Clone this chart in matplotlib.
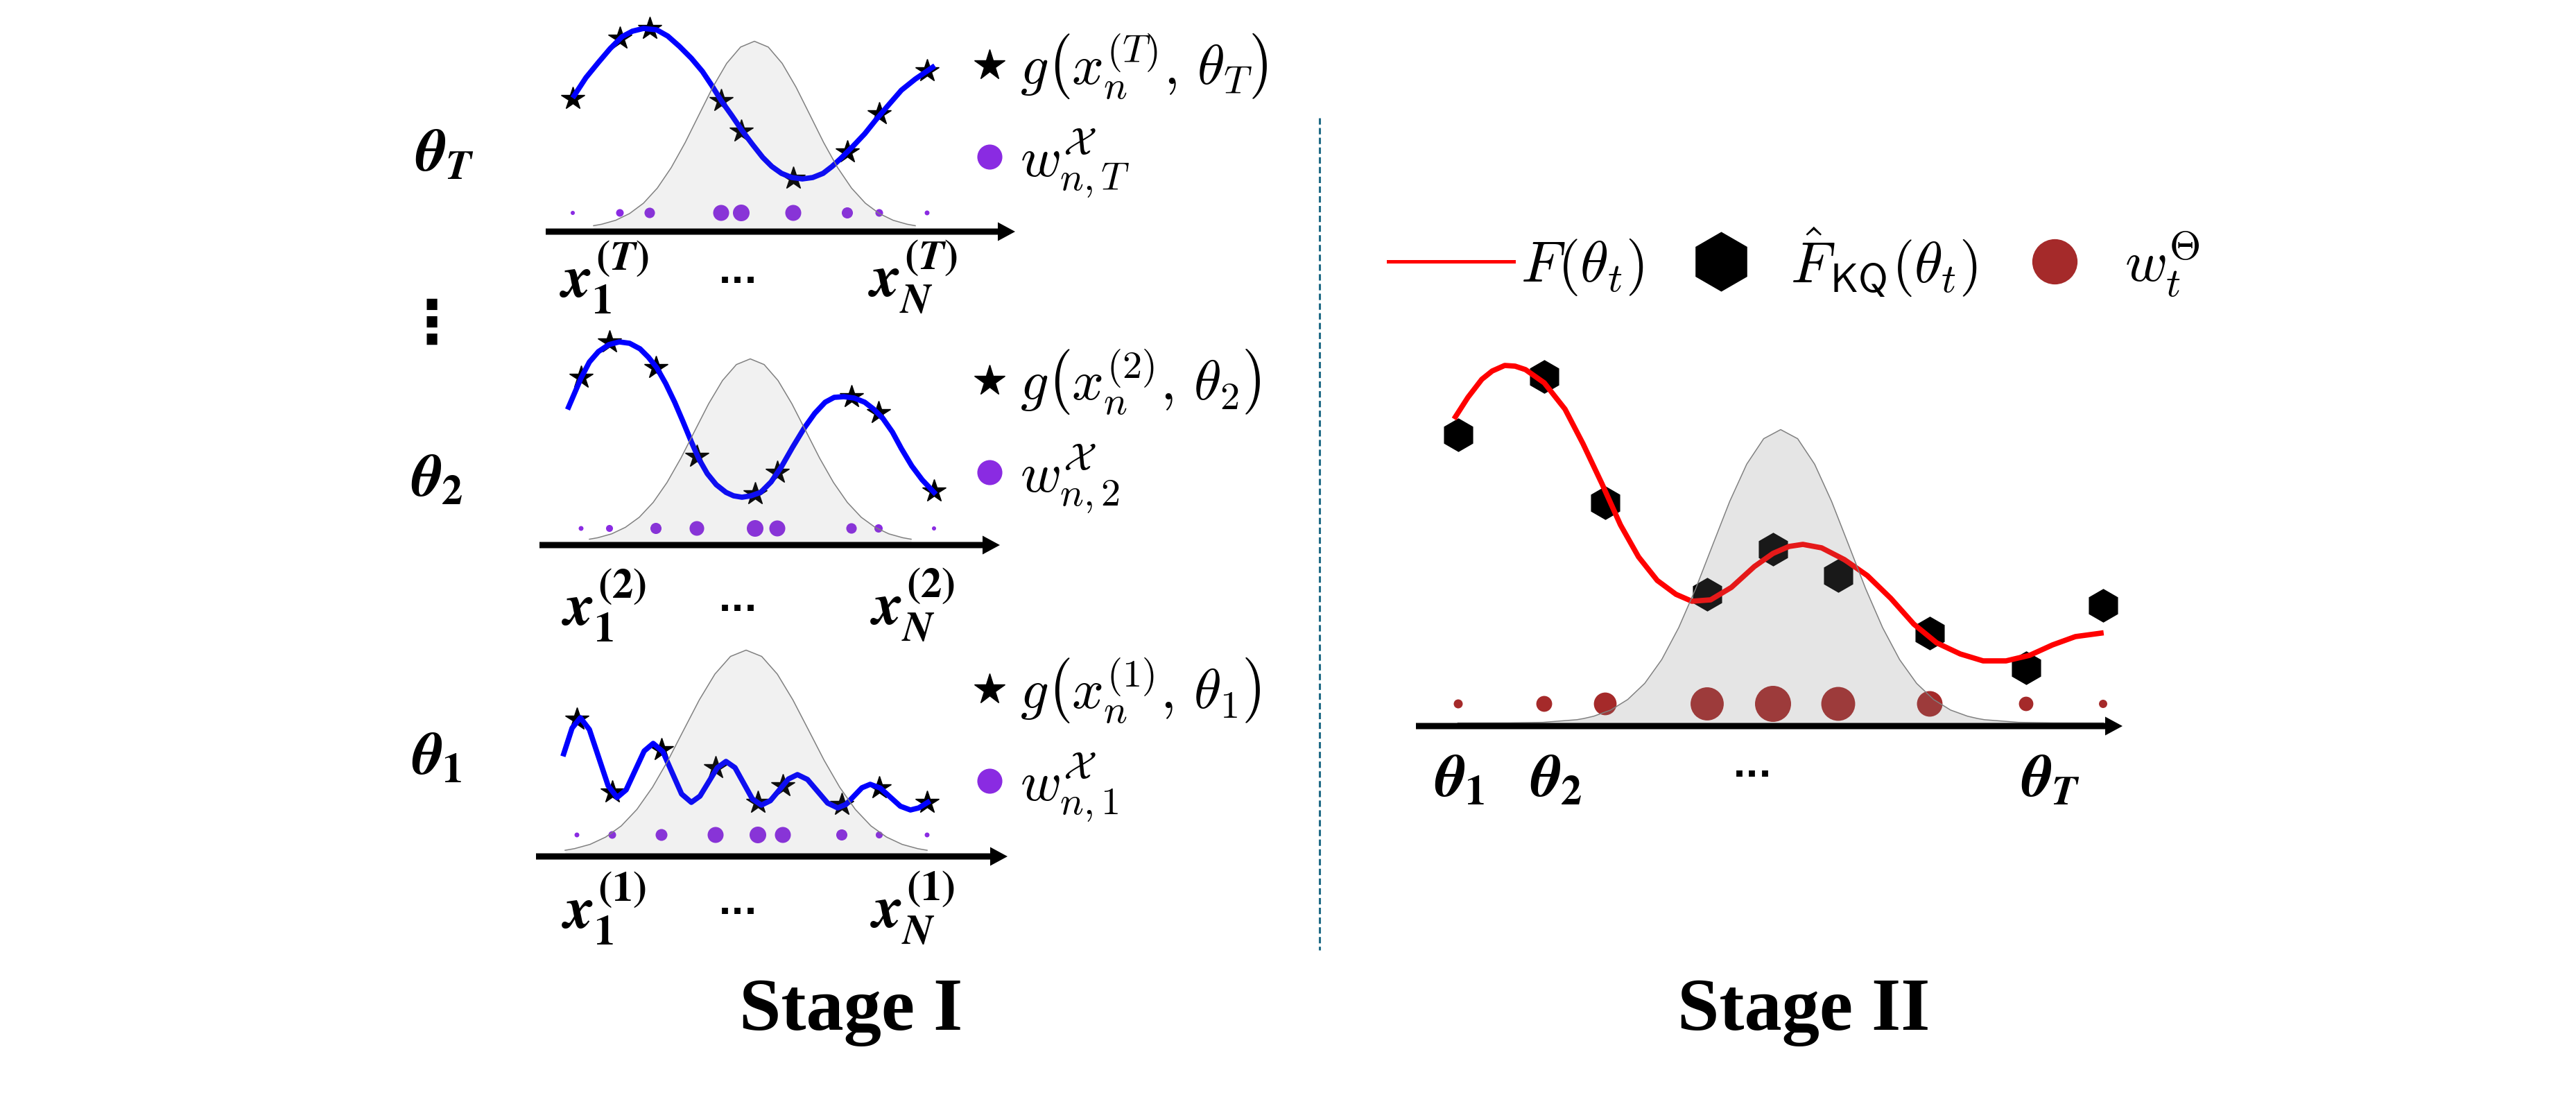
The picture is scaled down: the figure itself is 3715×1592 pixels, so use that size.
import numpy as np
import matplotlib
matplotlib.use("Agg")
import matplotlib.pyplot as plt
from matplotlib.lines import Line2D

plt.rcParams['mathtext.fontset'] = 'cm'
# bold serif set used by the axis labels (math_fontfamily='custom')
plt.rcParams['mathtext.rm'] = 'STIXGeneral:bold'
plt.rcParams['mathtext.it'] = 'STIXGeneral:italic:bold'
plt.rcParams['mathtext.bf'] = 'STIXGeneral:bold'

W, H = 3716, 1592

# ---------------- data ----------------
# one side of the shaded density profile, in standard-deviation units
gauss_u = [0.0, 0.25, 0.5, 0.75, 1.0, 1.25, 1.5, 1.75, 2.0, 2.25, 2.5, 2.75, 2.9, 3.0, 3.5, 4.0, 4.75]
gauss_h = [1.000, 0.969, 0.882, 0.755, 0.607, 0.458, 0.325, 0.216, 0.135, 0.080, 0.044, 0.023, 0.015,
           0.011, 0.002, 0.0003, 0.0]

# Stage I, theta_T
xT = [-2.62, -1.94, -1.51, -0.48, -0.19, 0.56, 1.34, 1.80, 2.49]
gT = [1.92, 2.79, 2.93, 1.89, 1.45, 0.77, 1.15, 1.70, 2.32]
wT = [0.25, 0.46, 0.63, 0.96, 1.00, 0.96, 0.67, 0.46, 0.29]
curveT_x = [-2.60, -2.43, -2.25, -2.08, -1.91, -1.76, -1.60, -1.41, -1.25, -1.08, -0.91, -0.75, -0.61,
            -0.48, -0.33, -0.18, -0.03, 0.12, 0.25, 0.39, 0.54, 0.69, 0.84, 0.99, 1.12, 1.25, 1.42,
            1.59, 1.75, 1.92, 2.12, 2.32, 2.57]
curveT_y = [1.96, 2.22, 2.44, 2.64, 2.81, 2.89, 2.93, 2.91, 2.82, 2.67, 2.50, 2.31, 2.10, 1.89, 1.68,
            1.46, 1.26, 1.07, 0.94, 0.84, 0.78, 0.76, 0.78, 0.84, 0.94, 1.06, 1.23, 1.41, 1.61, 1.81,
            2.04, 2.20, 2.37]

# Stage I, theta_2
x2 = [-2.44, -2.03, -1.36, -0.77, 0.07, 0.39, 1.46, 1.85, 2.65]
g2 = [2.42, 2.93, 2.56, 1.28, 0.74, 1.05, 2.14, 1.91, 0.78]
w2 = [0.29, 0.42, 0.67, 0.88, 1.00, 0.96, 0.63, 0.50, 0.25]
curve2_x = [-2.62, -2.44, -2.32, -2.19, -2.04, -1.89, -1.74, -1.59, -1.47, -1.35, -1.22, -1.09, -0.97,
            -0.85, -0.74, -0.62, -0.49, -0.35, -0.24, -0.12, 0.01, 0.15, 0.30, 0.45, 0.61, 0.78, 0.93,
            1.08, 1.21, 1.35, 1.50, 1.65, 1.78, 1.91, 2.05, 2.18, 2.33, 2.48, 2.65]
curve2_y = [1.99, 2.41, 2.64, 2.79, 2.89, 2.93, 2.91, 2.83, 2.71, 2.56, 2.33, 2.06, 1.78, 1.49, 1.24,
            1.03, 0.87, 0.76, 0.71, 0.69, 0.71, 0.76, 0.91, 1.13, 1.41, 1.69, 1.90, 2.06, 2.13, 2.14,
            2.12, 2.06, 1.96, 1.83, 1.63, 1.39, 1.14, 0.94, 0.76]

# Stage I, theta_1
x1 = [-2.44, -1.93, -1.22, -0.44, 0.17, 0.53, 1.38, 1.92, 2.61]
g1 = [1.98, 0.93, 1.54, 1.28, 0.78, 1.02, 0.75, 0.99, 0.78]
w1 = [0.29, 0.46, 0.71, 0.96, 1.00, 0.96, 0.67, 0.42, 0.29]
curve1_x = [-2.63, -2.51, -2.39, -2.26, -2.125, -1.99, -1.86, -1.73, -1.60, -1.47, -1.34, -1.20, -1.065,
            -0.93, -0.79, -0.665, -0.54, -0.415, -0.29, -0.16, -0.035, 0.09, 0.22, 0.35, 0.48, 0.61,
            0.74, 0.885, 1.03, 1.175, 1.32, 1.44, 1.555, 1.67, 1.79, 1.935, 2.08, 2.225, 2.37, 2.49, 2.62]
curve1_y = [1.48, 1.85, 2.00, 1.83, 1.425, 1.02, 0.85, 0.96, 1.24, 1.52, 1.63, 1.51, 1.205, 0.90, 0.78,
            0.87, 1.075, 1.28, 1.37, 1.28, 1.055, 0.83, 0.74, 0.804, 0.96, 1.116, 1.18, 1.11, 0.94, 0.77,
            0.70, 0.75, 0.87, 0.99, 1.04, 0.986, 0.855, 0.724, 0.67, 0.70, 0.78]

# Stage II
theta = [-4.65, -3.41, -2.53, -1.06, -0.11, 0.83, 2.15, 3.54, 4.65]
F_kq = [4.20, 5.04, 3.22, 1.90, 2.55, 2.17, 1.34, 0.84, 1.74]
w_theta = [0.25, 0.44, 0.63, 0.92, 1.00, 0.94, 0.71, 0.40, 0.23]
F_x = [-4.69, -4.51, -4.31, -4.16, -3.98, -3.83, -3.68, -3.41, -3.11, -2.85, -2.58, -2.31, -2.05, -1.78,
       -1.51, -1.28, -1.01, -0.71, -0.38, -0.11, 0.12, 0.32, 0.59, 0.92, 1.25, 1.59, 1.92, 2.25, 2.59,
       2.92, 3.25, 3.59, 3.92, 4.25, 4.62]
F_y = [4.46, 4.74, 5.00, 5.12, 5.20, 5.19, 5.14, 4.95, 4.57, 4.07, 3.50, 2.90, 2.44, 2.10, 1.90, 1.80,
       1.82, 2.00, 2.30, 2.49, 2.59, 2.62, 2.57, 2.40, 2.17, 1.84, 1.47, 1.20, 1.04, 0.94, 0.94, 1.02,
       1.17, 1.29, 1.34]

# density parameters read from the shaded areas: (sd, peak height)
dens_T = (0.80, 2.70)
dens_2 = (0.80, 2.64)
dens_1 = (0.90, 2.93)
dens_II = (0.98, 4.23)

PURPLE = '#8a2be2'
BROWN = '#a52a2a'

# ---------------- figure ----------------
fig = plt.figure(figsize=(W / 100, H / 100), dpi=100)


def fx(px):
    return px / W


def fy(py):
    return 1 - py / H


def panel(cx, ay, xr, yr):
    ax = fig.add_axes([fx(cx + xr[0] * 100), fy(ay - yr[0] * 100),
                       (xr[1] - xr[0]) * 100 / W, (yr[1] - yr[0]) * 100 / H])
    ax.set_xlim(*xr)
    ax.set_ylim(*yr)
    ax.axis('off')
    return ax


def density(ax, sd, peak, umax, alpha):
    u = np.array(gauss_u)
    h = np.array(gauss_h)
    m = u <= umax + 1e-9
    u, h = u[m], h[m]
    xs = np.concatenate([-u[::-1], u[1:]]) * sd
    ys = np.concatenate([h[::-1], h[1:]]) * peak + 0.045
    ax.fill_between(xs, 0.045, ys, color='gray', alpha=alpha, lw=0, zorder=5)
    ax.plot(xs, ys, color='gray', lw=1.1, zorder=5)


def arrow(ax, x0, x1):
    ax.arrow(x0, 0, x1 - x0, 0, width=0.09, head_width=0.27, head_length=0.25,
             length_includes_head=True, fc='k', ec='k', lw=0, zorder=6)


def stage1(cx, ay, xs, gs, ws, cxs, cys, dens, wy, arr):
    ax = panel(cx, ay, (-3.2, 3.9), (-0.3, 3.3))
    density(ax, dens[0], dens[1], 2.9, 0.11)
    ax.scatter(xs, [wy] * len(xs), s=(np.array(ws) * 24 * 0.72) ** 2, color=PURPLE, lw=0, zorder=2)
    ax.plot(xs, gs, ls='none', marker='*', ms=25, color='k', zorder=3)
    ax.plot(cxs, cys, color='blue', lw=5.5, zorder=4, solid_joinstyle='round')
    arrow(ax, arr[0], arr[1])
    return ax


stage1(1088, 334, xT, gT, wT, curveT_x, curveT_y, dens_T, 0.27, (-3.01, 3.76))
stage1(1082, 786, x2, g2, w2, curve2_x, curve2_y, dens_2, 0.24, (-3.04, 3.60))
stage1(1076, 1235, x1, g1, w1, curve1_x, curve1_y, dens_1, 0.31, (-3.03, 3.77))

# Stage II
ax2 = panel(2568, 1047, (-5.4, 5.1), (-0.3, 5.6))
density(ax2, dens_II[0], dens_II[1], 4.75, 0.2)
ax2.scatter(theta, [0.32] * len(theta), s=(np.array(w_theta) * 52 * 0.72) ** 2, color=BROWN, lw=0, zorder=2)
ax2.plot(theta, F_kq, ls='none', marker='h', ms=35, mew=0, color='k', zorder=3)
ax2.plot(F_x, F_y, color='red', lw=5.5, zorder=4, solid_joinstyle='round')
arrow(ax2, -5.26, 4.93)

# ---------------- legends ----------------
star_h = Line2D([], [], ls='none', marker='*', ms=33, color='k')
pdot_h = Line2D([], [], ls='none', marker='o', ms=26, mew=0, color=PURPLE)
for (ly, sup, sub) in [(167, 'T', 'T'), (622, '2', '2'), (1067, '1', '1')]:
    fig.legend(handles=[star_h, pdot_h],
               labels=[r'$g\left(x_n^{(%s)},\,\theta_%s\right)$' % (sup, sub),
                       r'$w_{n,%s}^{\mathcal{X}}$' % sub],
               loc='center left', bbox_to_anchor=(fx(1403), fy(ly)), frameon=False,
               fontsize=58, handlelength=0.6, handletextpad=0.25, labelspacing=0.45,
               borderpad=0, borderaxespad=0)

line_h = Line2D([], [], color='red', lw=3.6)
hex_h = Line2D([], [], ls='none', marker='h', ms=62, mew=0, color='k')
bdot_h = Line2D([], [], ls='none', marker='o', ms=47, mew=0, color=BROWN)
fig.legend(handles=[line_h, hex_h, bdot_h],
           labels=[r'$F(\theta_t)$', r'$\hat{F}_{\mathsf{KQ}}(\theta_t)$', r'$w_t^{\Theta}$'],
           ncol=3, loc='center left', bbox_to_anchor=(fx(2002), fy(378)), frameon=False,
           fontsize=60, handlelength=2.17, handletextpad=0.12, columnspacing=0.25,
           borderpad=0, borderaxespad=0)

# ---------------- labels ----------------
lab = dict(ha='center', va='center', math_fontfamily='custom', fontsize=62)
dots = dict(ha='center', va='baseline', family='DejaVu Sans', weight='bold', fontsize=36)
fig.text(fx(641), fy(222), r'$\theta_T$', **lab)
fig.text(fx(630), fy(691), r'$\theta_2$', **lab)
fig.text(fx(630), fy(1093), r'$\theta_1$', **lab)
fig.text(fx(623), fy(470), '\u22ee', ha='center', va='center', family='DejaVu Sans',
         weight='bold', fontsize=62)

for (yy, s) in [(400, 'T'), (873, '2'), (1310, '1')]:
    fig.text(fx(871), fy(yy), r'$x_1^{(%s)}$' % s, **lab)
    fig.text(fx(1316), fy(yy), r'$x_N^{(%s)}$' % s, **lab)
    fig.text(fx(1064), fy(yy + 8), '...', **dots)

fig.text(fx(2105), fy(1125), r'$\theta_1$', **lab)
fig.text(fx(2244), fy(1125), r'$\theta_2$', **lab)
fig.text(fx(2957), fy(1125), r'$\theta_T$', **lab)
fig.text(fx(2527), fy(1120), '...', **dots)

title = dict(ha='center', va='baseline', fontsize=78, family='Liberation Serif', weight='bold')
fig.text(fx(1227), fy(1485), 'Stage I', **title)
fig.text(fx(2601), fy(1485), 'Stage II', **title)

# separator
fig.add_artist(Line2D([fx(1903), fx(1903)], [fy(170), fy(1370)], color='#1f6a86', lw=2.2,
                      ls=(0, (3, 1.6))))

fig.savefig('out.png', dpi=100)
